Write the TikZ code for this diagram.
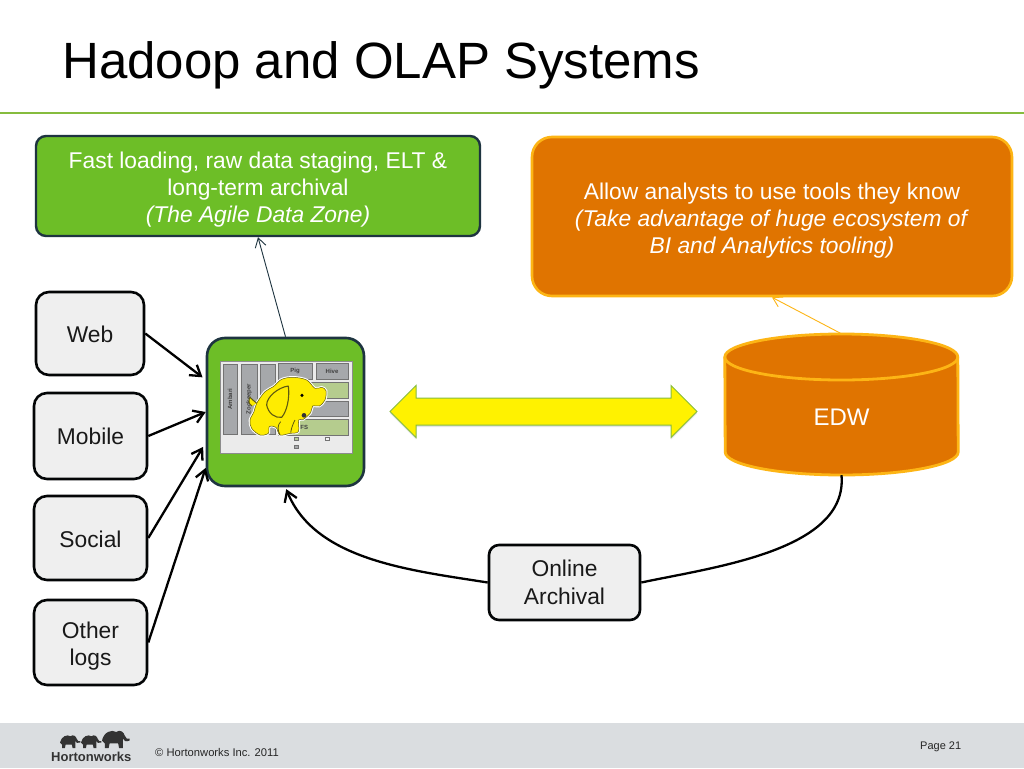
\documentclass[tikz,border=0pt]{standalone}
\usepackage{fontspec}
\setmainfont{Liberation Sans}
\usetikzlibrary{arrows.meta,shapes.arrows,shadows}
\definecolor{hwgreen}{HTML}{6DBE27}
\definecolor{hwline}{HTML}{86BC3E}
\definecolor{hwborder}{HTML}{1E3440}
\definecolor{hworange}{HTML}{E07400}
\definecolor{hwgold}{HTML}{FDB515}
\definecolor{hwfoot}{HTML}{DADDE0}
\definecolor{hwbox}{HTML}{EFEFEF}
\definecolor{hwpanel}{HTML}{A6A8AB}
\definecolor{hwlight}{HTML}{B5CC8E}
\definecolor{hwolive}{HTML}{5F5A10}
\tikzset{
  source/.style={draw=black!90!hwborder,line width=2.6pt,fill=hwbox,rounded corners=13pt,align=center,font=\fontsize{22.8}{27.5}\selectfont,text=black!90},
  zone/.style={draw=hwborder,line width=2.4pt,fill=hwgreen,rounded corners=10pt,align=center,text=white,font=\fontsize{22.8}{27}\selectfont},
  tools/.style={draw=hwgold,line width=2.6pt,fill=hworange,rounded corners=20pt,align=center,text=white,font=\fontsize{22.8}{27}\selectfont},
  feed/.style={-{Straight Barb[length=10pt,width=13pt]},line width=2.3pt,black},
  thinfeed/.style={-{Straight Barb[length=9pt,width=11pt]},line width=.9pt},
  panel/.style={draw=black!55,line width=.5pt,fill=hwpanel,inner sep=0pt,font=\bfseries\fontsize{6}{6}\selectfont,text=black!75},
  greenpanel/.style={panel,fill=hwlight},
  pics/logoelephant/.style={code={
    \fill[black!80] (0,0) .. controls (2,-9) and (10,-12) .. (15,-9) .. controls (19,-12) and (23,-9) .. (24,-5) .. controls (25,-2) and (27,-1) .. (29,-2)
      -- (29,0) .. controls (25,2) and (23,0) .. (22,-2) -- (22,8) -- (18,8) -- (17,3) -- (8,3) -- (7,8) -- (3,8) -- (3,3) -- cycle;
  }}
}
\begin{document}
\begin{tikzpicture}[x=1pt,y=-1pt]
  \path[use as bounding box,fill=white] (0,0) rectangle (1024,768);
  \fill[hwfoot] (0,723) rectangle (1024,768);
  \draw[hwline,line width=2.8pt] (0,113) -- (1024,113);

  \node[anchor=base west,inner sep=0pt,font=\fontsize{51}{51}\selectfont,text=black] (title) at (62,78) {Hadoop and OLAP Systems};

  \node[zone,minimum width=444pt,minimum height=100pt] (agile) at (258,186) {\rule{0pt}{24pt}Fast loading, raw data staging, ELT \&\\long-term archival\\\textit{(The Agile Data Zone)}};
  \node[tools,minimum width=480pt,minimum height=159pt] (analysts) at (772,216.5) {\rule{0pt}{24pt}Allow analysts to use tools they know\\\textit{(Take advantage of huge ecosystem of}\\\textit{BI and Analytics tooling)}};

  \node[source,minimum width=108pt,minimum height=83pt] (web) at (90,333.5) {\rule{0pt}{19pt}Web};
  \node[source,minimum width=113pt,minimum height=86pt] (mobile) at (90.5,436) {Mobile};
  \node[source,minimum width=113pt,minimum height=84pt] (social) at (90.5,538) {\rule{0pt}{19pt}Social};
  \node[source,minimum width=113pt,minimum height=85pt] (other) at (90.5,642.5) {\rule{0pt}{24pt}Other\\logs};

  \node[draw=hwborder,line width=2.6pt,fill=hwgreen,rounded corners=18pt,minimum width=157pt,minimum height=148pt] (hadoop) at (285.5,412) {};
  % stack picture inside the green box
  \node[fill=black!8,draw=black!45,line width=.6pt,minimum width=132pt,minimum height=92pt,inner sep=0pt] (stack) at (286,407) {};
  \node[panel,minimum width=14pt,minimum height=70pt] (ambari) at (230,399) {\rotatebox{90}{Ambari}};
  \node[panel,minimum width=16pt,minimum height=70pt] (zookeeper) at (249,399) {\rotatebox{90}{Zookeeper}};
  \node[panel,minimum width=15pt,minimum height=70pt] (hcat) at (267.5,399) {};
  \node[panel,minimum width=34pt,minimum height=16pt] (pig) at (295,371) {Pig};
  \node[panel,minimum width=32pt,minimum height=16pt] (hive) at (332,371) {Hive};
  \node[greenpanel,minimum width=70pt,minimum height=16pt] (hbase) at (313,390) {};
  \node[panel,minimum width=70pt,minimum height=15pt] (mapred) at (313,408.5) {};
  \node[greenpanel,minimum width=70pt,minimum height=16pt] (dfs) at (313,427) {\hspace*{-22pt}DFS};
  \node[greenpanel,minimum width=4pt,minimum height=3pt] (keya) at (296,439) {};
  \node[panel,fill=black!5,minimum width=4pt,minimum height=3pt] (keyb) at (327,439) {};
  \node[panel,minimum width=4pt,minimum height=3pt] (keyc) at (296,447) {};

  % the elephant
  \begin{scope}[shift={(240,370)},x=.3333pt,y=-.3333pt]
    \draw[white,line width=2.6pt] plot[smooth cycle,tension=.55] coordinates {(50,100) (75,65) (100,50) (125,28) (160,22) (200,30) (225,55) (245,52) (258,62) (255,90) (238,108) (218,108) (212,128) (190,148) (176,150) (175,185) (150,190) (120,195) (108,172) (88,170) (85,190) (60,195) (35,175) (30,150) (42,125)};
    \draw[hwolive,line width=.5pt,fill=yellow!94!orange] plot[smooth cycle,tension=.55] coordinates {(50,100) (75,65) (100,50) (125,28) (160,22) (200,30) (225,55) (245,52) (258,62) (255,90) (238,108) (218,108) (212,128) (190,148) (176,150) (175,185) (150,190) (120,195) (108,172) (88,170) (85,190) (60,195) (35,175) (30,150) (42,125)};
    \draw[hwolive,line width=1pt,fill=yellow!94!orange] (50,100) .. controls (42,92) and (35,88) .. (30,82) .. controls (24,92) and (26,102) .. (36,108);
    \draw[hwolive,line width=1.1pt] (145,48) .. controls (115,52) and (80,80) .. (80,105) .. controls (85,130) and (105,145) .. (125,142) .. controls (140,125) and (150,85) .. (145,48);
    \draw[hwolive,line width=.8pt] (120,195) .. controls (112,180) and (112,165) .. (122,155);
    \draw[hwolive,line width=.8pt] (165,150) .. controls (160,160) and (155,170) .. (152,188);
    \fill[black] (186,76) circle[radius=5];
    \fill[black!80] (192,136) circle[radius=7];
  \end{scope}

  \node[double arrow,draw=hwline,line width=1pt,fill=yellow,text height=26pt,text depth=0pt,minimum height=307pt,double arrow head extend=12.5pt,inner sep=0pt,drop shadow={shadow xshift=0pt,shadow yshift=-2pt,opacity=.2}] (sync) at (543.5,411.5) {};

  % EDW store, the node only holds the anchors
  \node[minimum width=233pt,minimum height=141pt,inner sep=0pt] (edw) at (841.5,404.5) {};
  \filldraw[draw=hwgold,fill=hworange,line width=2.8pt] (edw.west |- 0,357) arc[start angle=180,end angle=360,x radius=116.5,y radius=23] -- (edw.east |- 0,452) arc[start angle=0,end angle=180,x radius=116.5,y radius=23] -- cycle;
  \draw[hwgold,line width=2.8pt] (edw.west |- 0,357) arc[start angle=180,end angle=0,x radius=116.5,y radius=23];
  \node[text=white,font=\fontsize{24}{28}\selectfont,inner sep=0pt] (edwtext) at (841.5,417) {EDW};

  \node[source,rounded corners=10pt,minimum width=151pt,minimum height=75pt] (archival) at (564.5,582.5) {Online\\Archival};

  \draw[feed,shorten >=4pt] (web.east) -- (hadoop.158);
  \draw[feed] (mobile.east) -- (hadoop.180);
  \draw[feed,shorten >=5pt] (social.east) -- (hadoop.201);
  \draw[feed] (other.east) -- (hadoop.215);
  \draw[thinfeed,hwborder] (hadoop.north) -- (agile.south);
  \draw[thinfeed,hwgold] (edw.north) -- (analysts.south);
  \draw[line width=2.3pt,black] (edw.south) to[out=-85,in=12,looseness=.85] (archival.east);
  \draw[feed,shorten >=2pt] (archival.west) to[out=171,in=-68,looseness=.9] (hadoop.south);

  % footer
  \path (60,742.5) pic[scale=.7] {logoelephant};
  \path (81,742.5) pic[scale=.7] {logoelephant};
  \path (102,740.5) pic[scale=.95] {logoelephant};
  \node[anchor=base west,inner sep=0pt,font=\bfseries\fontsize{13}{13}\selectfont,text=black!80] (brand) at (51,761) {Hortonworks};
  \node[anchor=base west,inner sep=0pt,font=\fontsize{11.2}{11}\selectfont,text=black!85] (copy) at (155,756) {© Hortonworks Inc. 2011};
  \node[anchor=base west,inner sep=0pt,font=\fontsize{11}{11}\selectfont,text=black!85] (page) at (920,749) {Page 21};
\end{tikzpicture}
\end{document}
